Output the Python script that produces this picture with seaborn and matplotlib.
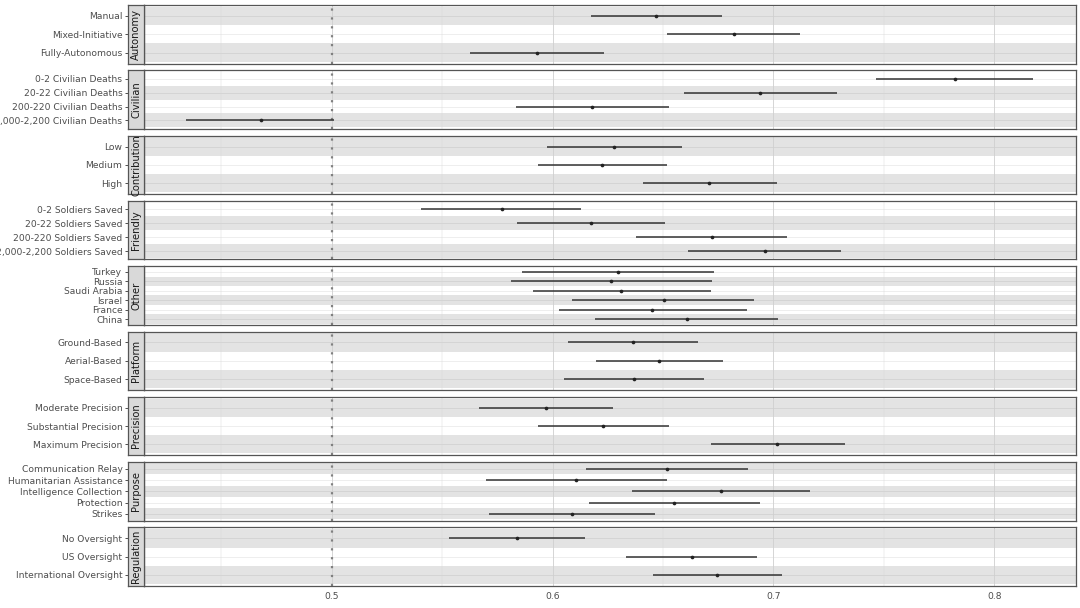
import matplotlib
matplotlib.use("Agg")
import matplotlib.pyplot as plt
import seaborn as sns
import pandas as pd

sns.set_style("white")
plt.rcParams['font.family'] = ['DejaVu Sans']

groups = ['Autonomy', 'Civilian', 'Contribution', 'Friendly', 'Other',
          'Platform', 'Precision', 'Purpose', 'Regulation']
labels = {
    'Autonomy': ['Manual', 'Mixed-Initiative', 'Fully-Autonomous'],
    'Civilian': ['0-2 Civilian Deaths', '20-22 Civilian Deaths', '200-220 Civilian Deaths', '2,000-2,200 Civilian Deaths'],
    'Contribution': ['Low', 'Medium', 'High'],
    'Friendly': ['0-2 Soldiers Saved', '20-22 Soldiers Saved', '200-220 Soldiers Saved', '2,000-2,200 Soldiers Saved'],
    'Other': ['Turkey', 'Russia', 'Saudi Arabia', 'Israel', 'France', 'China'],
    'Platform': ['Ground-Based', 'Aerial-Based', 'Space-Based'],
    'Precision': ['Moderate Precision', 'Substantial Precision', 'Maximum Precision'],
    'Purpose': ['Communication Relay', 'Humanitarian Assistance', 'Intelligence Collection', 'Protection', 'Strikes'],
    'Regulation': ['No Oversight', 'US Oversight', 'International Oversight'],
}
estimate = {
    'Autonomy': [0.647, 0.682, 0.593],
    'Civilian': [0.782, 0.694, 0.618, 0.468],
    'Contribution': [0.628, 0.6225, 0.671],
    'Friendly': [0.577, 0.6175, 0.672, 0.696],
    'Other': [0.6296, 0.6263, 0.6311, 0.6503, 0.6451, 0.6607],
    'Platform': [0.6365, 0.6483, 0.6368],
    'Precision': [0.5968, 0.6229, 0.7018],
    'Purpose': [0.6518, 0.6107, 0.6762, 0.6551, 0.6086],
    'Regulation': [0.5839, 0.663, 0.6746],
}
lower = {
    'Autonomy': [0.6174, 0.6517, 0.5625],
    'Civilian': [0.7465, 0.6596, 0.5835, 0.434],
    'Contribution': [0.5974, 0.5932, 0.6409],
    'Friendly': [0.5405, 0.584, 0.6376, 0.6614],
    'Other': [0.5861, 0.581, 0.5911, 0.609, 0.6027, 0.6192],
    'Platform': [0.6068, 0.6196, 0.6053],
    'Precision': [0.5665, 0.5933, 0.6716],
    'Purpose': [0.6152, 0.5699, 0.636, 0.6166, 0.5711],
    'Regulation': [0.5532, 0.6332, 0.6454],
}
upper = {
    'Autonomy': [0.6766, 0.7119, 0.6231],
    'Civilian': [0.8175, 0.729, 0.6527, 0.501],
    'Contribution': [0.6584, 0.652, 0.7015],
    'Friendly': [0.613, 0.651, 0.7063, 0.7305],
    'Other': [0.6732, 0.672, 0.6716, 0.6913, 0.6879, 0.7022],
    'Platform': [0.666, 0.6772, 0.6684],
    'Precision': [0.6272, 0.6526, 0.7326],
    'Purpose': [0.6885, 0.6518, 0.7164, 0.6938, 0.6462],
    'Regulation': [0.6146, 0.6927, 0.704],
}

fig = plt.figure(figsize=(10.8, 6.08), dpi=100)
W, H = 1080, 608
px_left, px_right = 144, 1076
strip_w = 16
top, ph, gap = 5, 58.5, 6.8
xlim = (0.415, 0.837)
band = '#E3E3E3'
text_col = '#4D4D4D'

for gi, g in enumerate(groups):
    y0 = top + gi * (ph + gap)
    rect = [px_left / W, 1 - (y0 + ph) / H, (px_right - px_left) / W, ph / H]
    ax = fig.add_axes(rect)
    df = pd.DataFrame({'label': labels[g], 'est': estimate[g],
                       'lo': lower[g], 'hi': upper[g]})
    n = len(df)
    df['pos'] = list(range(n - 1, -1, -1))
    for p in df['pos']:
        if p % 2 == 0:
            ax.axhspan(p - 0.5, p + 0.5, color=band, lw=0, zorder=0)
        ax.axhline(p, color='#EBEBEB' if p % 2 else '#D2D2D2', lw=0.6, zorder=0.5)
    for xv in [0.45, 0.55, 0.65, 0.75]:
        ax.axvline(xv, color='#D6D6D6', lw=0.3, zorder=0.6)
    for xv in [0.5, 0.6, 0.7, 0.8]:
        ax.axvline(xv, color='#CFCFCF', lw=0.6, zorder=0.6)
    ax.axvline(0.5, color='#808080', lw=1.6, ls=(0, (1, 3)), zorder=1)
    ax.hlines(df['pos'], df['lo'], df['hi'], color='#333333', lw=1.1, zorder=2)
    sns.scatterplot(data=df, x='est', y='pos', ax=ax, color='#222222', s=7,
                    marker='o', linewidth=0, zorder=3)
    ax.set_xlim(*xlim)
    ax.set_ylim(-0.6, n - 1 + 0.6)
    ax.set_yticks([])
    ax.set_xlabel('')
    ax.set_ylabel('')
    for s in ax.spines.values():
        s.set_color('#555555')
        s.set_linewidth(0.9)
    if gi == len(groups) - 1:
        ax.set_xticks([0.5, 0.6, 0.7, 0.8])
        ax.set_xticklabels(['0.5', '0.6', '0.7', '0.8'], color=text_col, fontsize=6.6)
        ax.tick_params(axis='x', length=2.5, width=0.6, color='#333333', pad=2)
    else:
        ax.set_xticks([])
    # strip on the left, carrying the category ticks
    sax = fig.add_axes([(px_left - strip_w) / W, rect[1], strip_w / W, ph / H])
    sax.set_facecolor('#D9D9D9')
    sax.set_ylim(-0.6, n - 1 + 0.6)
    sax.set_xticks([])
    sax.set_yticks(df['pos'])
    sax.set_yticklabels(df['label'], color=text_col, fontsize=6.6)
    sax.tick_params(axis='y', length=2.5, width=0.6, color='#333333', pad=1.5, left=True)
    for s in sax.spines.values():
        s.set_color('#555555')
        s.set_linewidth(0.9)
    sax.text(0.5, 0.5, g, rotation=90, ha='center', va='center',
             fontsize=7.2, color='#1A1A1A', transform=sax.transAxes)

fig.savefig('out.png', dpi=100)
